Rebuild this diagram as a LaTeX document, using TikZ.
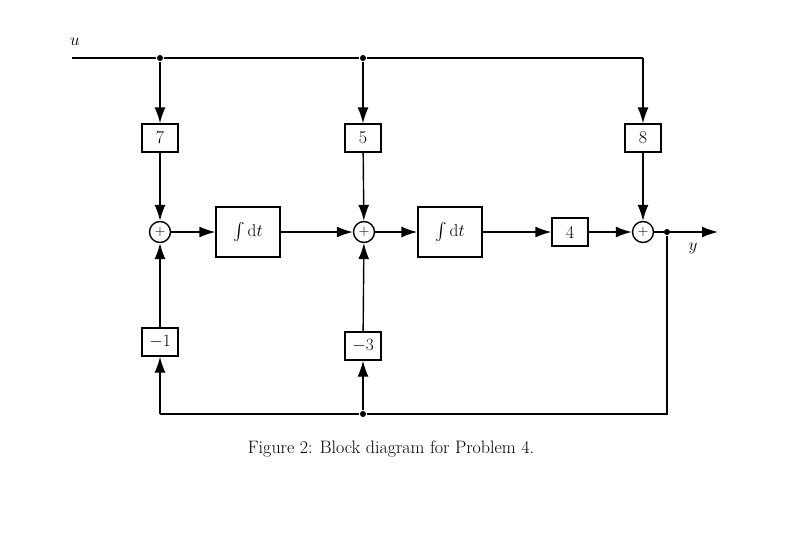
\documentclass[tikz,border=0pt]{standalone}
\usepackage{amsmath}
\usetikzlibrary{arrows.meta}
\newcommand{\bigtext}{\fontsize{18}{21}\selectfont}
\begin{document}
\begin{tikzpicture}[x=1pt,y=-1pt,line width=1.4pt,
                    >={Latex[length=16pt,width=11pt]},
                    every node/.style={font=\bigtext},
                    gain/.style={draw, minimum width=36pt, minimum height=28pt, inner sep=0},
                    integ/.style={draw, minimum width=64pt, minimum height=50pt, inner sep=0},
                    sum/.style={draw, circle, minimum size=21pt, inner sep=0, font=\fontsize{15}{17}\selectfont},
                    dot/.style={circle, fill=black, inner sep=0, minimum size=6pt}]
                \useasboundingbox (0,0) rectangle (797,551);
                \coordinate (in) at (72,58);
                \node (ulab) at (75,42) {$u$};
                \node [dot] (d1) at (160,58) {};
                \node [dot] (d2) at (363,58) {};
                \coordinate (c3) at (643,58);

                \node [gain] (k7) at (160,138) {7};
                \node [gain] (k5) at (363,138) {5};
                \node [gain] (k8) at (643,138) {8};

                \node [sum] (s1) at (160,232) {$+$};
                \node [integ] (i1) at (248,232) {$\int\mathrm{d}t$};
                \node [sum] (s2) at (364,232) {$+$};
                \node [integ] (i2) at (450,232) {$\int\mathrm{d}t$};
                \node [gain] (k4) at (570,232) {4};
                \node [sum] (s3) at (643,232) {$+$};
                \node [dot] (d3) at (667,232) {};
                \coordinate (out) at (718,232);
                \node (ylab) at (693,248) {$y$};

                \node [gain] (km1) at (160,342) {$-1$};
                \node [gain] (km3) at (363,346) {$-3$};
                \node [dot] (d4) at (363,414) {};
                \coordinate (c4) at (667,414);
                \coordinate (c5) at (160,414);

                \draw (in) -- (d1) -- (d2) -- (c3);
                \draw [->] (d1) -- (k7);
                \draw [->] (d2) -- (k5);
                \draw [->] (c3) -- (k8);
                \draw [->] (k7) -- (s1);
                \draw [->] (k5) -- (s2);
                \draw [->] (k8) -- (s3);

                \draw [->] (s1) -- (i1);
                \draw [->] (i1) -- (s2);
                \draw [->] (s2) -- (i2);
                \draw [->] (i2) -- (k4);
                \draw [->] (k4) -- (s3);
                \draw [->] (s3) -- (out);

                \draw (d3) -- (c4) -- (d4) -- (c5);
                \draw [->] (c5) -- (km1);
                \draw [->] (d4) -- (km3);
                \draw [->] (km1) -- (s1);
                \draw [->] (km3) -- (s2);

                \node (cap) at (391,449) {Figure 2: Block diagram for Problem 4.};
            \end{tikzpicture}
\end{document}
